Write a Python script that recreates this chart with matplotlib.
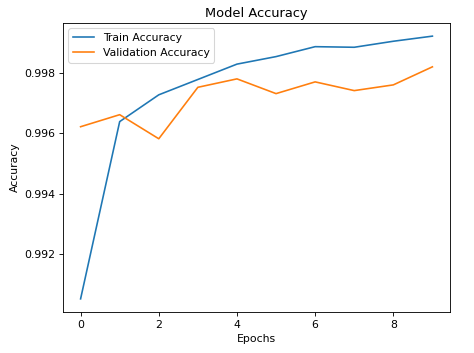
import matplotlib
matplotlib.use("Agg")
import matplotlib.pyplot as plt

# accuracy per epoch
epochs = list(range(10))
train_acc = [0.99050, 0.99639, 0.99728, 0.99779, 0.99830,
             0.99855, 0.99888, 0.99886, 0.99906, 0.99923]
val_acc = [0.99622, 0.99662, 0.99582, 0.99753, 0.99781,
           0.99732, 0.99771, 0.99742, 0.99761, 0.99821]

DPI = 78
W, H = 474, 353
fig = plt.figure(figsize=(W / DPI, H / DPI), dpi=DPI)
# axes box in pixels: left 63, right 450, top 23, bottom 312
ax = fig.add_axes([63 / W, (H - 312) / H, (450 - 63) / W, (312 - 23) / H])

ax.plot(epochs, train_acc, label='Train Accuracy')
ax.plot(epochs, val_acc, label='Validation Accuracy')
ax.set_title('Model Accuracy')
ax.set_xlabel('Epochs')
ax.set_ylabel('Accuracy')
ax.legend(loc='upper left')

fig.savefig('out.png', dpi=DPI)
